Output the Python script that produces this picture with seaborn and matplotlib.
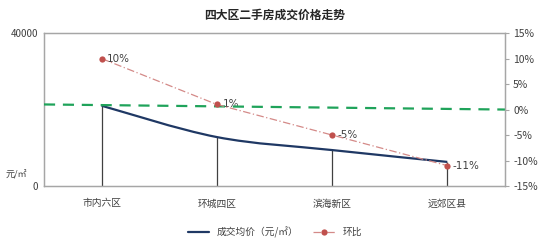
import matplotlib
matplotlib.use("Agg")
import matplotlib.pyplot as plt
import seaborn as sns
import pandas as pd
import numpy as np
from matplotlib.lines import Line2D
from matplotlib.path import Path
from matplotlib.patches import PathPatch

sns.set_theme(style="white")
plt.rcParams['font.family'] = ['Noto Sans CJK SC', 'DejaVu Sans']

categories = ["市内六区", "环城四区", "滨海新区", "远郊区县"]
avg_price = [21000, 12800, 9400, 6300]
mom_pct = [10, 1, -5, -11]
mom_labels = ["10%", "1%", "-5%", "-11%"]
ref_line_pct = [1.0, 0.0]   # green dashed reference line (left end, right end)
left_ticks = [0, 40000]
right_ticks = [-15, -10, -5, 0, 5, 10, 15]

df = pd.DataFrame({"cat": categories, "x": np.arange(len(categories)),
                   "price": avg_price, "pct": mom_pct})

fig = plt.figure(figsize=(5.5, 2.47), dpi=100)
ax = fig.add_axes([0.08, 0.247, 0.838, 0.619])
ax2 = ax.twinx()

navy = "#1f3864"
red = "#c0504d"
redline = "#d48a88"
green = "#1fa35a"
grey = "#a6a6a6"

# smooth price curve (cubic bezier through the data points)
xs = df["x"].to_numpy(float)
ys = df["price"].to_numpy(float)
verts = [(xs[0], ys[0])]
codes = [Path.MOVETO]
n = len(xs)
for i in range(n - 1):
    p0 = (xs[max(i - 1, 0)], ys[max(i - 1, 0)])
    p1 = (xs[i], ys[i])
    p2 = (xs[i + 1], ys[i + 1])
    p3 = (xs[min(i + 2, n - 1)], ys[min(i + 2, n - 1)])
    t = 1 / 6
    c1 = (p1[0] + (p2[0] - p0[0]) * t, p1[1] + (p2[1] - p0[1]) * t)
    c2 = (p2[0] - (p3[0] - p1[0]) * t, p2[1] - (p3[1] - p1[1]) * t)
    verts += [c1, c2, p2]
    codes += [Path.CURVE4] * 3
ax.add_patch(PathPatch(Path(verts, codes), fill=False, edgecolor=navy, lw=1.6, zorder=3))

ax.vlines(df["x"], 0, df["price"], color="#404040", lw=0.9, zorder=2)

ax.set_xlim(-0.5, 3.5)
ax.set_ylim(0, 40000)
ax.set_yticks(left_ticks)
ax.set_yticklabels([str(v) for v in left_ticks])
ax.set_xticks(df["x"])
ax.set_xticklabels(categories)
ax.tick_params(axis="x", length=0, pad=9, labelsize=7, colors="#404040")
ax.tick_params(axis="y", length=0, pad=4, labelsize=7, colors="#404040")
for s in ax.spines.values():
    s.set_color(grey)
    s.set_linewidth(0.9)

# MoM line on right axis
sns.lineplot(data=df, x="x", y="pct", ax=ax2, color=redline, lw=0.9,
             marker="o", markersize=4.5, markeredgewidth=0, markerfacecolor=red,
             zorder=4, legend=False)
ax2.lines[-1].set_dashes([6, 2, 1, 2])
for xi, yi, lab in zip(df["x"], df["pct"], mom_labels):
    ax2.annotate(lab, (xi, yi), xytext=(4, 0), textcoords="offset points",
                 va="center", ha="left", fontsize=7.5, color="#404040",
                 family="DejaVu Sans")
ax2.plot([-0.5, 3.5], ref_line_pct, color=green, lw=1.6, ls=(0, (5, 3.5)), zorder=3)
ax2.set_ylim(-15, 15)
ax2.set_yticks(right_ticks)
ax2.set_yticklabels([f"{v}%" for v in right_ticks])
ax2.tick_params(axis="y", length=3, width=0.8, color=grey, pad=3, labelsize=7.5, colors="#404040")
ax2.set_xlim(-0.5, 3.5)
ax2.set_xlabel("")
ax2.set_ylabel("")
for s in ax2.spines.values():
    s.set_color(grey)
    s.set_linewidth(0.9)

fig.text(0.01, 0.28, "元/㎡", fontsize=6.5, color="#404040")
fig.text(0.5, 0.94, "四大区二手房成交价格走势", ha="center", va="center",
         fontsize=8.5, fontweight="bold", color="#262626")

handles = [Line2D([], [], color=navy, lw=1.6),
           Line2D([], [], color=redline, lw=0.9, ls=(0, (6, 2, 1, 2)), marker="o",
                  markersize=4.5, markeredgewidth=0, markerfacecolor=red)]
fig.legend(handles, ["成交均价（元/㎡）", "环比"], loc="center", bbox_to_anchor=(0.5, 0.06),
           ncol=2, frameon=False, fontsize=7, handlelength=2.2, columnspacing=1.5,
           labelcolor="#404040")

fig.savefig("out.png", dpi=100)
